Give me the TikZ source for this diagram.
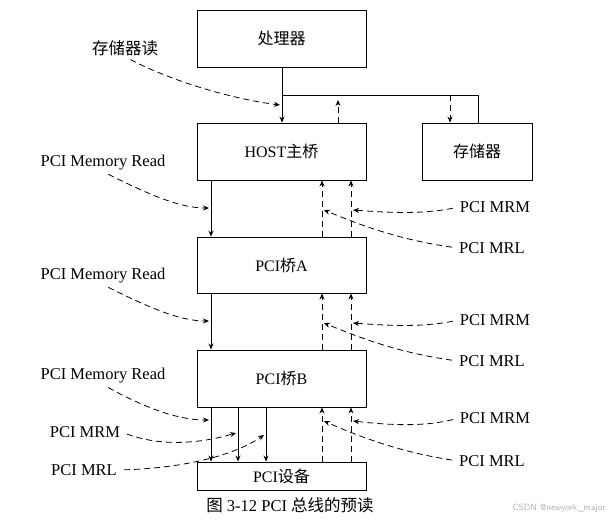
\documentclass[tikz,border=0pt]{standalone}
\usepackage{fontspec}
\setmainfont{Liberation Serif}
\newfontfamily\cjk{Noto Sans CJK SC}
\usetikzlibrary{arrows.meta}
\begin{document}
\begin{tikzpicture}[x=1pt,y=-1pt,
  box/.style={draw,line width=0.9pt,inner sep=0pt,font=\fontsize{16}{18}\selectfont},
  lbl/.style={font=\fontsize{16.5}{18}\selectfont,inner sep=1pt},
  sarr/.style={line width=0.9pt,-{Stealth[length=6pt,width=5pt]}},
  darr/.style={line width=0.9pt,dashed,dash pattern=on 6pt off 4pt,-{Stealth[length=6pt,width=5pt]}},
  dcur/.style={line width=0.8pt,dash pattern=on 6pt off 4pt,shorten <=6pt,-{Stealth[length=6pt,width=5pt]}}]
\useasboundingbox (0,0) rectangle (611,520);
\fill[white] (0,0) rectangle (611,520);
% boxes
\node[box,minimum width=169pt,minimum height=57pt] (cpu) at (281.5,38.5) {\cjk 处理器};
\node[box,minimum width=169pt,minimum height=57pt] (host) at (281.5,151.5) {HOST{\cjk 主桥}};
\node[box,minimum width=110pt,minimum height=57pt] (mem) at (477,151.5) {\cjk 存储器};
\node[box,minimum width=169pt,minimum height=56pt] (pa) at (281.5,265) {PCI{\cjk 桥}A};
\node[box,minimum width=169pt,minimum height=57pt] (pb) at (281.5,378.5) {PCI{\cjk 桥}B};
\node[box,minimum width=169pt,minimum height=28pt] (dev) at (281.5,476) {PCI{\cjk 设备}};
% top bus
\coordinate (j) at (282,95);
\draw[sarr] (cpu.south -| j) -- (host.north -| j);
\draw[line width=0.9pt] (j) -- (478,95) -- (mem.north -| 478,0);
\draw[darr] (host.north -| 338,0) -- (338,100);
\draw[darr] (450,95) -- (mem.north -| 450,0);
\node[lbl] (rd) at (125,48) {\cjk 存储器读};
\draw[dcur] (rd.south) .. controls (180,85) and (240,100) .. (280,105);
% levels
\foreach \up/\lo in {host/pa,pa/pb}{
  \draw[sarr] (\up.south -| 211,0) -- (\lo.north -| 211,0);
  \draw[darr] (\lo.north -| 322,0) -- (\up.south -| 322,0);
  \draw[darr] (\lo.north -| 351,0) -- (\up.south -| 351,0);
}
\node[lbl] (l1) at (103,163) {PCI Memory Read};
\node[lbl] (r1a) at (495,207) {PCI MRM};
\node[lbl] (r1b) at (492,248) {PCI MRL};
\draw[dcur] (l1.south) .. controls (150,195) and (180,208) .. (209,208);
\draw[dcur] (r1a.west) .. controls (420,215) and (380,212) .. (353,210);
\draw[dcur] (r1b.west) .. controls (400,240) and (360,225) .. (324,210);
\node[lbl] (l2) at (103,276) {PCI Memory Read};
\node[lbl] (r2a) at (495,320) {PCI MRM};
\node[lbl] (r2b) at (492,361) {PCI MRL};
\draw[dcur] (l2.south) .. controls (150,308) and (180,321) .. (209,321);
\draw[dcur] (r2a.west) .. controls (420,328) and (380,325) .. (353,323);
\draw[dcur] (r2b.west) .. controls (400,353) and (360,338) .. (324,323);
% bottom
\foreach \x in {211,238,266}{\draw[sarr] (pb.south -| \x,0) -- (dev.north -| \x,0);}
\draw[darr] (dev.north -| 322,0) -- (pb.south -| 322,0);
\draw[darr] (dev.north -| 351,0) -- (pb.south -| 351,0);
\node[lbl] (l3) at (103,376) {PCI Memory Read};
\node[lbl] (l3a) at (85,432) {PCI MRM};
\node[lbl] (l3b) at (84,470) {PCI MRL};
\node[lbl] (r3a) at (495,418) {PCI MRM};
\node[lbl] (r3b) at (492,461) {PCI MRL};
\draw[dcur] (l3.south) .. controls (140,405) and (175,420) .. (209,420);
\draw[dcur] (l3a.east) .. controls (165,448) and (205,442) .. (236,433);
\draw[dcur] (l3b.east) .. controls (185,468) and (235,455) .. (264,435);
\draw[dcur] (r3a.west) .. controls (420,428) and (380,424) .. (353,421);
\draw[dcur] (r3b.west) .. controls (400,452) and (360,437) .. (324,421);
% caption
\node[lbl] (cap) at (290,505) {{\cjk 图} 3-12 PCI {\cjk 总线的预读}};
\node[font=\fontsize{9}{10}\selectfont\sffamily,text=gray!60,anchor=east] (wm) at (609,508) {CSDN @newyork\_major};
\end{tikzpicture}
\end{document}
